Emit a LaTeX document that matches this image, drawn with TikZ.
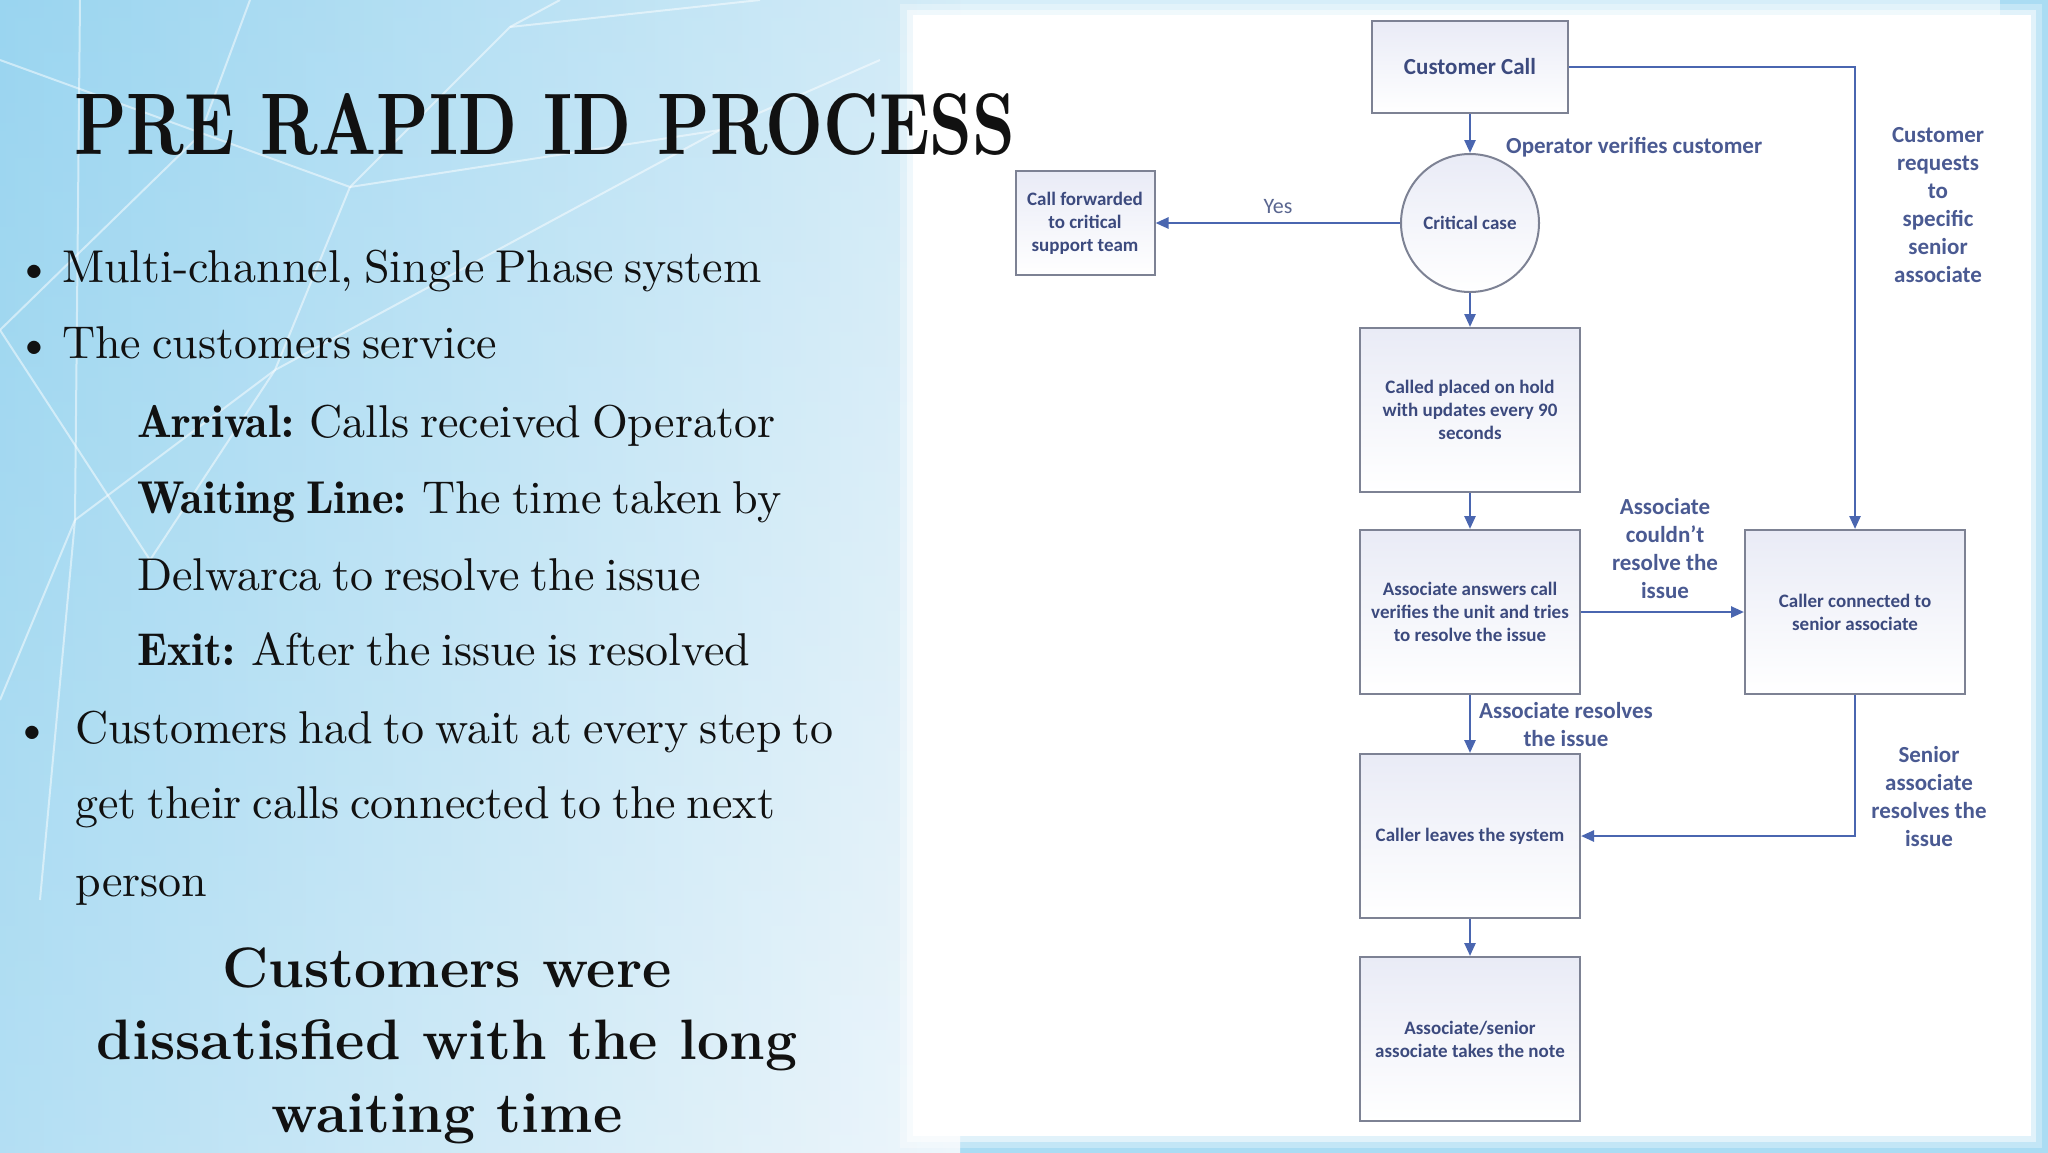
\documentclass[tikz,border=0pt]{standalone}
\usepackage{fontspec}
\usepackage{graphicx}
\newfontfamily\flowfont{Carlito}
\newfontfamily\bodyfont{lmroman10-regular}[Extension=.otf, BoldFont=lmromandemi10-regular, WordSpace=0.7]
\newfontfamily\titlefont{lmroman10-bold}[Extension=.otf]
\usetikzlibrary{arrows.meta,shapes.geometric}
\definecolor{bgleft}{HTML}{9AD5F0}
\definecolor{bgmid}{HTML}{EEF6FB}
\definecolor{bgtop}{HTML}{D6EEF9}
\definecolor{bgright}{HTML}{AADCF3}
\definecolor{netline}{HTML}{FFFFFF}
\definecolor{bodyblack}{HTML}{111111}
\definecolor{navy}{HTML}{3C4A7E}
\definecolor{labelblue}{HTML}{4A5A92}
\definecolor{yesgray}{HTML}{5A6690}
\definecolor{arrowblue}{HTML}{4A66B0}
\definecolor{boxgray}{HTML}{7D8294}
\definecolor{boxtop}{HTML}{E9EBF6}
\tikzset{
  box/.style={draw=boxgray, line width=2pt, top color=boxtop, bottom color=white,
    align=center, font=\flowfont\bfseries\fontsize{19}{23}\selectfont, text=navy, inner sep=0pt},
  lbl/.style={align=center, font=\flowfont\bfseries\fontsize{23}{28}\selectfont, text=labelblue, inner sep=0pt},
  arr/.style={draw=arrowblue, line width=2.5pt, -{Triangle[length=13pt,width=11pt]}},
  body/.style={anchor=base west, inner sep=0pt, text=bodyblack, font=\bodyfont\fontsize{46}{77}\selectfont},
  bigline/.style={anchor=base, inner sep=0pt, text=bodyblack, font=\bfseries\fontsize{57}{72}\selectfont},
  net/.style={draw=netline, line width=2pt, opacity=0.5}
}
\begin{document}
\begin{tikzpicture}[x=1pt,y=-1pt]
\useasboundingbox (0,0) rectangle (2048,1152);
% background
\shade[top color=bgtop, bottom color=bgright] (900,0) rectangle (2048,1152);
\fill[bgright] (2000,0) rectangle (2048,1152);
\shade[left color=bgleft, right color=bgmid] (0,0) rectangle (960,1152);
\shade[top color=bgleft, bottom color=bgmid, opacity=0.3] (0,0) rectangle (960,1152);
% network lines
\coordinate (pA) at (0,60);
\coordinate (pB) at (200,135);
\coordinate (pC) at (350,187);
\coordinate (pD) at (510,27);
\coordinate (pE) at (560,0);
\coordinate (pF) at (760,0);
\coordinate (pH) at (720,130);
\coordinate (pI) at (80,0);
\coordinate (pJ) at (75,520);
\coordinate (pK) at (0,330);
\coordinate (pL) at (275,370);
\coordinate (pM) at (250,0);
\coordinate (pN) at (0,700);
\coordinate (pO) at (150,560);
\coordinate (pP) at (40,900);
\coordinate (pQ) at (880,60);
\draw[net] (pA) -- (pC) -- (pD) -- (pE);
\draw[net] (pD) -- (pF);
\draw[net] (pC) -- (pH) -- (pQ);
\draw[net] (pC) -- (pL) -- (pJ);
\draw[net] (pI) -- (pJ) -- (pN);
\draw[net] (pK) -- (pB) -- (pM);
\draw[net] (pJ) -- (pP);
\draw[net] (pL) -- (pO) -- (pK);
\draw[net] (pL) -- (pH);
% white panel with soft edge
\fill[white, opacity=0.3] (900,4) rectangle (2042,1148);
\fill[white, opacity=0.5] (907,10) rectangle (2036,1142);
\fill[white] (913,15) rectangle (2031,1136);
% title
\node[anchor=base west, inner sep=0pt, text=bodyblack] (title) at (74,154) {\resizebox{941pt}{61pt}{\titlefont PRE RAPID ID PROCESS}};
% bullets and body text
\node[body] (b1) at (16,282) {\textbullet};
\node[body] (t1) at (62,282) {Multi-channel, Single Phase system};
\node[body] (b2) at (16,358) {\textbullet};
\node[body] (t2) at (62,358) {The customers service};
\node[body] (t3) at (137,437) {\textbf{Arrival:} Calls received Operator};
\node[body] (t4) at (137,513) {\textbf{Waiting Line:} The time taken by};
\node[body] (t5) at (137,590) {Delwarca to resolve the issue};
\node[body] (t6) at (137,665) {\textbf{Exit:} After the issue is resolved};
\node[body] (b3) at (14,743) {\textbullet};
\node[body] (t7) at (75,743) {Customers had to wait at every step to};
\node[body] (t8) at (75,818) {get their calls connected to the next};
\node[body] (t9) at (75,896) {person};
\node[bigline] (c1) at (447,987) {Customers were};
\node[bigline] (c2) at (447,1059) {dissatisfied with the long};
\node[bigline] (c3) at (447,1132) {waiting time};
% flowchart nodes
\node[box, minimum width=196pt, minimum height=92pt, font=\flowfont\bfseries\fontsize{23}{26}\selectfont] (cc) at (1470,67) {Customer Call};
\node[box, circle, minimum size=138pt] (crit) at (1470,223) {Critical case};
\node[box, minimum width=139pt, minimum height=104pt] (fwd) at (1085,223) {Call forwarded\\to critical\\support team};
\node[box, minimum width=220pt, minimum height=164pt] (hold) at (1470,410) {Called placed on hold\\with updates every 90\\seconds};
\node[box, minimum width=220pt, minimum height=164pt] (ans) at (1470,612) {Associate answers call\\verifies the unit and tries\\to resolve the issue};
\node[box, minimum width=220pt, minimum height=164pt] (snr) at (1855,612) {Caller connected to\\senior associate};
\node[box, minimum width=220pt, minimum height=164pt] (leave) at (1470,836) {Caller leaves the system};
\node[box, minimum width=220pt, minimum height=164pt] (note) at (1470,1039) {Associate/senior\\associate takes the note};
% labels
\node[lbl, anchor=west] (lop) at (1506,147) {Operator verifies customer};
\node[lbl, font=\flowfont\fontsize{22}{26}\selectfont, text=yesgray] (lyes) at (1278,207) {Yes};
\node[lbl] (lreq) at (1938,205) {Customer\\requests\\to\\specific\\senior\\associate};
\node[lbl] (lcould) at (1665,549) {Associate\\couldn’t\\resolve the\\issue};
\node[lbl] (lres) at (1566,725) {Associate resolves\\the issue};
\node[lbl] (lsen) at (1929,797) {Senior\\associate\\resolves the\\issue};
% connectors
\draw[arr] (cc) -- (crit);
\draw[arr] (crit) -- (fwd);
\draw[arr] (crit) -- (hold);
\draw[arr] (hold) -- (ans);
\draw[arr] (ans) -- (snr);
\draw[arr] (ans) -- (leave);
\draw[arr] (leave) -- (note);
\draw[arr] (cc.east) -| (snr.north);
\draw[arr] (snr.south) |- (leave.east);
\end{tikzpicture}
\end{document}
